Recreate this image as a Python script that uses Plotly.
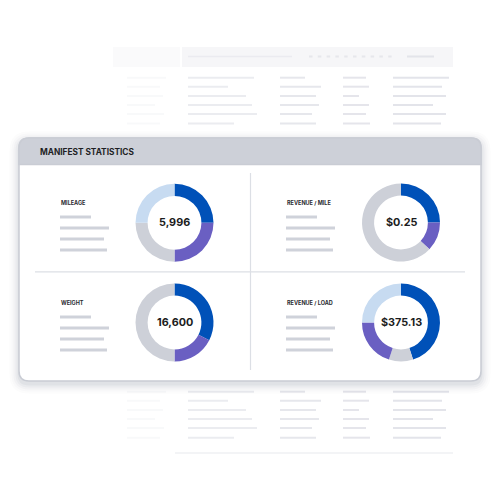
import plotly.graph_objects as go

# ---- data ----
titles = ["MILEAGE", "REVENUE / MILE", "WEIGHT", "REVENUE / LOAD"]
center_values = ["5,996", "$0.25", "16,600", "$375.13"]
# segment order clockwise from 12 o'clock per donut
mileage_labels = ["Primary", "Secondary", "Other", "Remaining"]
mileage_values = [25, 25, 25, 25]
rev_mile_labels = ["Primary", "Secondary", "Other"]
rev_mile_values = [25, 12, 63]
weight_labels = ["Primary", "Secondary", "Other"]
weight_values = [32.5, 17.5, 50]
rev_load_labels = ["Primary", "Other", "Secondary", "Remaining"]
rev_load_values = [45, 10, 20, 25]
# placeholder text-line lengths (px) under each card label
placeholder_lengths = [31, 49, 44, 47]
# faded background table rows (end positions of each column)
table_col_starts = [127, 188, 280, 343, 393]
table_col_ends = [
    [166, 254, 305, 366, 449],
    [160, 228, 321, 369, 442],
    [163, 246, 316, 359, 446],
    [155, 252, 319, 369, 433],
    [164, 257, 312, 366, 446],
    [160, 234, 316, 370, 441],
]

colors = {"Primary": "#0051b8", "Secondary": "#6a5fc2", "Other": "#cdd0d8", "Remaining": "#c7dbf1"}

fig = go.Figure()

def rrect(x0, y0, x1, y1, r, top_only=False):
    if top_only:
        return (f"M {x0},{y1} L {x0},{y0+r} Q {x0},{y0} {x0+r},{y0} L {x1-r},{y0} "
                f"Q {x1},{y0} {x1},{y0+r} L {x1},{y1} Z")
    return (f"M {x0+r},{y0} L {x1-r},{y0} Q {x1},{y0} {x1},{y0+r} L {x1},{y1-r} "
            f"Q {x1},{y1} {x1-r},{y1} L {x0+r},{y1} Q {x0},{y1} {x0},{y1-r} "
            f"L {x0},{y0+r} Q {x0},{y0} {x0+r},{y0} Z")

shapes = []
def add(**kw):
    kw.setdefault("xref", "x")
    kw.setdefault("yref", "y")
    kw.setdefault("layer", "below")
    shapes.append(kw)

col_alpha = [0.2, 0.6, 0.75, 0.8, 0.85]
def table(row_ys):
    for ri, y in enumerate(row_ys):
        for ci, (xs, xe) in enumerate(zip(table_col_starts, table_col_ends[ri])):
            add(type="line", x0=xs, x1=xe, y0=y, y1=y,
                line=dict(color="rgba(222,223,230,%.2f)" % col_alpha[ci], width=2))

# upper header band (faint)
add(type="rect", x0=113, x1=180, y0=47, y1=67, fillcolor="rgba(246,246,248,0.5)", line=dict(width=0))
add(type="rect", x0=182, x1=453, y0=47, y1=67, fillcolor="rgba(244,244,247,0.85)", line=dict(width=0))
add(type="line", x0=188, x1=292, y0=56.5, y1=56.5, line=dict(color="rgba(232,233,237,0.8)", width=1.5))
for k in range(10):
    xx = 309 + k * 8.8
    add(type="line", x0=xx, x1=xx + 3.5, y0=56.5, y1=56.5, line=dict(color="rgba(228,229,234,0.9)", width=2))
add(type="line", x0=407, x1=434, y0=56.5, y1=56.5, line=dict(color="rgba(225,226,232,0.9)", width=2))
table([77.7, 86.7, 96, 105, 114, 123.5])
table([391.7, 400.7, 410, 419, 428, 437.7])
add(type="line", x0=175, x1=453, y0=453, y1=453, line=dict(color="rgba(236,237,240,0.8)", width=1.5))

# card shadow
for i, a in enumerate([0.05, 0.04, 0.03, 0.02, 0.015]):
    g = 1.5 + i * 2.0
    add(type="path", path=rrect(19 - g, 138 - g + 3, 481 + g, 381 + g + 3, 10 + g),
        fillcolor="rgba(60,70,90,%.3f)" % a, line=dict(width=0))
# card body
add(type="path", path=rrect(19, 138, 481, 381, 10), fillcolor="white", line=dict(color="#c9ccd4", width=1.5))
# header band
add(type="path", path=rrect(19, 138, 481, 164.5, 10, top_only=True), fillcolor="#cdd0d8",
    line=dict(color="#c9ccd4", width=1.5))
# dividers
add(type="line", x0=250.5, x1=250.5, y0=173, y1=370, line=dict(color="#dcdfe5", width=1.2))
add(type="line", x0=35, x1=465, y0=271.8, y1=271.8, line=dict(color="#dcdfe5", width=1.2))

panels = [
    dict(title=titles[0], val=center_values[0], labels=mileage_labels, values=mileage_values, lx=60, ly=203, cx=174.5, cy=222.8),
    dict(title=titles[1], val=center_values[1], labels=rev_mile_labels, values=rev_mile_values, lx=286, ly=203, cx=401, cy=222.5),
    dict(title=titles[2], val=center_values[2], labels=weight_labels, values=weight_values, lx=60, ly=303, cx=174.5, cy=322.5),
    dict(title=titles[3], val=center_values[3], labels=rev_load_labels, values=rev_load_values, lx=286, ly=303, cx=401, cy=322.5),
]
R = 39
annotations = []
for p in panels:
    fig.add_trace(go.Pie(
        labels=p["labels"], values=p["values"], hole=0.69, sort=False, direction="clockwise",
        rotation=0, textinfo="none", hoverinfo="skip", showlegend=False,
        marker=dict(colors=[colors[l] for l in p["labels"]], line=dict(width=0)),
        domain=dict(x=[(p["cx"] - R) / 500, (p["cx"] + R) / 500],
                    y=[1 - (p["cy"] + R) / 500, 1 - (p["cy"] - R) / 500])))
    annotations.append(dict(x=p["cx"], y=p["cy"], xref="x", yref="y", text="<b>%s</b>" % p["val"],
                            showarrow=False, font=dict(family="Inter", size=10.8, color="#1b1c20"),
                            xanchor="center", yanchor="middle"))
    annotations.append(dict(x=p["lx"] - 1.5, y=p["ly"], xref="x", yref="y", text="<b>%s</b>" % p["title"],
                            showarrow=False, font=dict(family="Inter", size=5.5, color="#2a2b30"),
                            xanchor="left", yanchor="middle"))
    for k, L in enumerate(placeholder_lengths):
        yy = p["ly"] + 14 + k * 11
        add(type="line", x0=p["lx"], x1=p["lx"] + L, y0=yy, y1=yy, line=dict(color="#cfd2da", width=3))

annotations.append(dict(x=37.5, y=151.5, xref="x", yref="y", text="<b>MANIFEST STATISTICS</b>",
                        showarrow=False, font=dict(family="Inter", size=8.3, color="#1e1f24"),
                        xanchor="left", yanchor="middle"))

fig.update_layout(
    width=500, height=500, margin=dict(l=0, r=0, t=0, b=0),
    paper_bgcolor="white", plot_bgcolor="rgba(0,0,0,0)",
    xaxis=dict(range=[0, 500], visible=False, fixedrange=True),
    yaxis=dict(range=[500, 0], visible=False, fixedrange=True),
    shapes=shapes, annotations=annotations,
)
fig.write_html("out.html")
